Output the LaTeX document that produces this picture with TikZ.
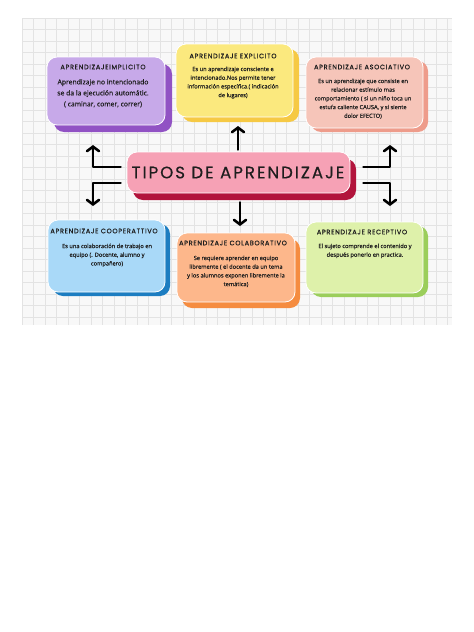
\documentclass[tikz,border=0pt]{standalone}
\usepackage{fontspec}
\setmainfont{Open Sans}[FakeBold=0.6]
\newfontfamily\bodyfont[FakeBold=0.45]{Open Sans}
\newfontfamily\ttlfont[LetterSpace=11,FakeBold=0.5]{Poppins}
\newfontfamily\bigfont[LetterSpace=12,FakeBold=0.4]{Poppins}
\usetikzlibrary{arrows.meta,shadows}
\definecolor{paper}{HTML}{F8F8F8}
\definecolor{gridc}{HTML}{E3E3E3}
\definecolor{purF}{HTML}{C7A9E9}
\definecolor{purS}{HTML}{9152C4}
\definecolor{yelF}{HTML}{FBE97E}
\definecolor{yelS}{HTML}{F6C944}
\definecolor{salF}{HTML}{F6C5B9}
\definecolor{salS}{HTML}{EE9C8B}
\definecolor{pinF}{HTML}{F6A1B5}
\definecolor{pinS}{HTML}{B2143C}
\definecolor{bluF}{HTML}{A9D9F8}
\definecolor{bluS}{HTML}{1C7DC1}
\definecolor{orF}{HTML}{FDB78B}
\definecolor{orS}{HTML}{F58C40}
\definecolor{grF}{HTML}{DEF1AA}
\definecolor{grS}{HTML}{9BCE5B}
\definecolor{ink}{HTML}{1E1E1E}
\tikzset{
  card/.style n args={3}{draw=white, line width=0.8pt, fill=#1, rounded corners=10pt,
    inner sep=0pt, minimum width=#2, minimum height=#3},
  shad/.style n args={3}{drop shadow={shadow xshift=#2, shadow yshift=#3, fill=#1, opacity=1}},
  ttl/.style={font=\ttlfont\fontsize{6.5}{8}\selectfont, text=ink, inner sep=0pt},
  bdy/.style={font=\bodyfont\fontsize{5.7}{8.7}\selectfont, text=ink, align=center, inner sep=0pt},
  arr/.style={draw=black, line width=2.6pt, -{Straight Barb[length=4.5pt,width=12pt,line cap=round]}, line cap=round, line join=round},
}
\begin{document}
\begin{tikzpicture}[x=1pt,y=-1pt]
\useasboundingbox (0,0) rectangle (474,632);
\fill[white] (0,0) rectangle (474,632);
\fill[paper] (22,18) rectangle (452,325);
\begin{scope}
\clip (22,18) rectangle (452,325);
\foreach \i in {0,...,38} {\draw[gridc, line width=0.5pt] (22+\i*11.5,18) -- (22+\i*11.5,325);}
\foreach \j in {0,...,27} {\draw[gridc, line width=0.5pt] (22,18+\j*11.5) -- (452,18+\j*11.5);}
\end{scope}

% cards
\node[card={purF}{118pt}{68pt}, shad={purS}{7pt}{-7pt}] (imp) at (106,91) {};
\node[card={yelF}{117pt}{73pt}, shad={yelS}{6pt}{-5pt}] (exp) at (234.5,80.5) {};
\node[card={salF}{117pt}{71pt}, shad={salS}{5pt}{-4pt}] (aso) at (364.5,92.5) {};
\node[card={pinF}{223pt}{41pt}, shad={pinS}{6pt}{-7pt}] (tipos) at (238.5,172.5) {};
\node[card={bluF}{117pt}{72pt}, shad={bluS}{5pt}{-4pt}] (coo) at (106.5,256) {};
\node[card={orF}{118pt}{69pt}, shad={orS}{5pt}{-6pt}] (col) at (236,267.5) {};
\node[card={grF}{117pt}{71pt}, shad={grS}{5pt}{-4pt}] (rec) at (364.5,257.5) {};

% central title
\node[font=\bigfont\fontsize{16.6}{18}\selectfont, text=ink, inner sep=0pt] (tt) at (238,172.5) {TIPOS DE APRENDIZAJE};

% titles
\node[ttl] (impT) at (103,67) {APRENDIZAJEIMPLICITO};
\node[ttl] (expT) at (233,56) {APRENDIZAJE EXPLICITO};
\node[ttl] (asoT) at (362,67) {APRENDIZAJE ASOCIATIVO};
\node[ttl] (cooT) at (104,231) {APRENDIZAJE COOPERATTIVO};
\node[ttl] (colT) at (233,243) {APRENDIZAJE COLABORATIVO};
\node[ttl] (recT) at (362,232) {APRENDIZAJE RECEPTIVO};

% bodies
\node[bdy, font=\bodyfont\fontsize{6.8}{11}\selectfont, anchor=north] (impB) at (103,79) {Aprendizaje no intencionado\\se da la ejecución automátic.\\( caminar, comer, correr)};
\node[bdy, anchor=north] (expB) at (233,66.5) {Es un aprendizaje consciente e\\intencionado.Nos permite tener\\información específica.( indicación\\de lugares)};
\node[bdy, anchor=north] (asoB) at (363,78.5) {Es un aprendizaje que consiste en\\relacionar estímulo mas\\comportamiento ( si un niño toca un\\estufa caliente CAUSA, y si siente\\dolor EFECTO)};
\node[bdy, anchor=north] (cooB) at (107,243.5) {Es una colaboración de trabajo en\\equipo (. Docente, alumno y\\compañero)};
\node[bdy, anchor=north] (colB) at (236,255.5) {Se requiere aprender en equipo\\libremente ( el docente da un tema\\y los alumnos exponen libremente la\\temática)};
\node[bdy, anchor=north] (recB) at (365,243.5) {El sujeto comprende el contenido y\\después ponerlo en practica.};

% arrows
\coordinate (upE) at (238,126);
\coordinate (dnE) at (240,226);
\coordinate (ltE) at (93,145);
\coordinate (lbE) at (93,206);
\coordinate (rtE) at (390,145);
\coordinate (rbE) at (390,206);
\draw[arr] ([yshift=2pt]tipos.north -| upE) -- (upE);
\draw[arr] ([yshift=-9pt]tipos.south -| dnE) -- (dnE);
\draw[arr] ([xshift=-6pt,yshift=5.5pt]tipos.west) -| (ltE);
\draw[arr] ([xshift=-6pt,yshift=-10.5pt]tipos.west) -| (lbE);
\draw[arr] ([xshift=13pt,yshift=5.5pt]tipos.east) -| (rtE);
\draw[arr] ([xshift=13pt,yshift=-10.5pt]tipos.east) -| (rbE);
\end{tikzpicture}
\end{document}
